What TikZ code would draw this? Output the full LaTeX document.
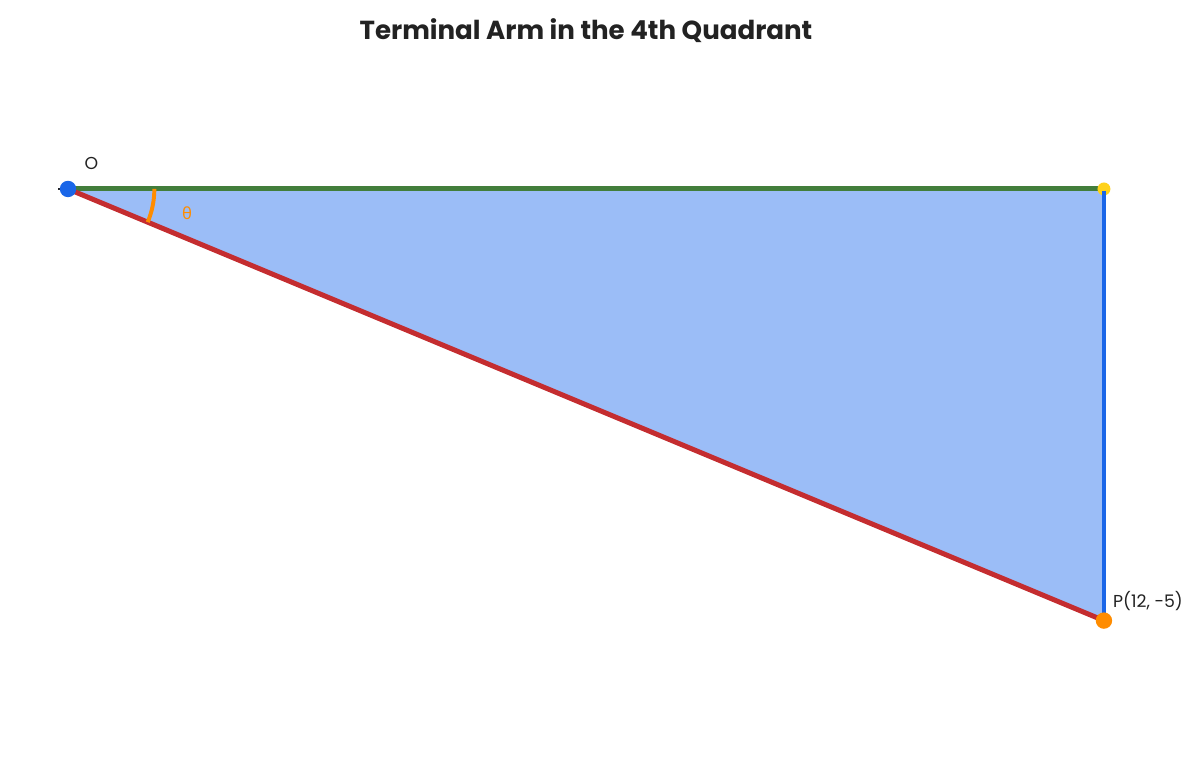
\documentclass[tikz,border=0pt]{standalone}
\usepackage{fontspec}
\setmainfont{Poppins}
\newfontfamily\greekfont{Noto Sans}
\usepackage{tikz}
\usetikzlibrary{calc}
\definecolor{armfill}{HTML}{9BBDF7}
\definecolor{armgreen}{HTML}{427E3B}
\definecolor{armred}{HTML}{C42D30}
\definecolor{armblue}{HTML}{1A66E8}
\definecolor{armorange}{HTML}{FF8C00}
\definecolor{armyellow}{HTML}{FFD21A}
\definecolor{armtext}{HTML}{222222}

\begin{document}
\begin{tikzpicture}
	\def\thick{1.65pt}
	\def\dotr{0.095}
	\useasboundingbox (-0.788,-6.718) rectangle (13.113,2.189);

	\coordinate (O) at (0, 0);
	\coordinate (X) at (12, 0);
	\coordinate (P) at (12, -5);

	\fill[armfill] (O) -- (X) -- (P) -- cycle;

	\draw[line width=0.6pt, armtext] (O) -- +(-0.12,0);
	\draw[line width=\thick, armgreen] (O) -- (X);
	\draw[line width=1.3pt, armblue] (X) -- (P);
	\draw[line width=\thick, armred] (O) -- (P);

	\draw[line width=1.3pt, armorange] ($ (O)+(1,0) $) arc (0:{atan2(-5,12)}:1);
	\node[text=armorange, font=\greekfont\fontsize{5.5}{6}\selectfont] (theta) at (1.38,-0.28) {θ};

	\fill[armyellow] (X) circle (0.075);
	\draw[line width=1.3pt, armblue] ($ (X)+(0,-0.02) $) -- +(0,-0.1);
	\fill[armblue] (O) circle (\dotr);
	\fill[armorange] (P) circle (\dotr);

	\node[text=armtext, font=\fontsize{5.7}{7}\selectfont] (labO) at (0.27,0.3) {O};
	\node[text=armtext, anchor=west, font=\fontsize{5.7}{7}\selectfont, inner sep=0pt] (labP) at (12.1,-4.77) {P(12, -5)};
	\node[text=armtext, font=\bfseries\fontsize{8.6}{10}\selectfont] (title) at (6.0,1.84) {Terminal Arm in the 4th Quadrant};
\end{tikzpicture}
\end{document}
